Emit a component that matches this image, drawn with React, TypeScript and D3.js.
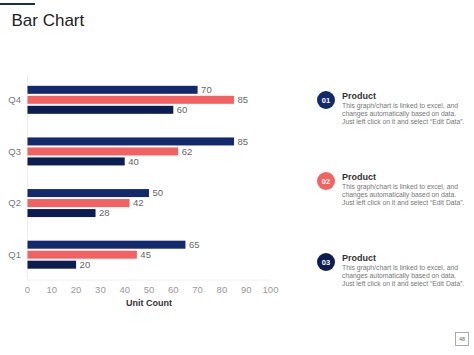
import React from "react";
import * as d3 from "d3";

const categories = ["Q1", "Q2", "Q3", "Q4"];
const series1 = [65, 50, 85, 70];
const series2 = [45, 42, 62, 85];
const series3 = [20, 28, 40, 60];
const xTicks = [0, 10, 20, 30, 40, 50, 60, 70, 80, 90, 100];
const seriesColors = ["#12296e", "#f36161", "#0c1d52"];
const panelNumbers = ["01", "02", "03"];
const panelColors = ["#12296e", "#f36161", "#0c1d52"];
const panelTitle = "Product";
const panelLines = [
  "This graph/chart is linked to excel, and",
  "changes automatically based on data.",
  "Just left click on it and select \u201CEdit Data\u201D.",
];

const W = 474;
const H = 355;
const font = "'Liberation Sans', Arial, sans-serif";

export default function App() {
  const x = d3.scaleLinear().domain([0, 100]).range([27.5, 270.5]);
  const y = d3
    .scaleBand<string>()
    .domain([...categories].reverse())
    .range([74, 280.5])
    .padding(0);
  const seriesAll = [series1, series2, series3];
  const barH = 8;
  const barGap = 10;

  return (
    <div style={{ position: "absolute", left: 0, top: 0 }}>
      <svg width={W} height={H} style={{ display: "block", background: "#fff" }}>
        <rect x={0} y={3} width={35} height={2} fill="#1c2b5e" />
        <text x={11.5} y={26} fontFamily={font} fontSize={17} fill="#222">
          Bar Chart
        </text>

        <line x1={x(0)} x2={x(0)} y1={74} y2={280} stroke="#eeeeee" />
        <line x1={x(0)} x2={x(100)} y1={280} y2={280} stroke="#f0f0f0" />

        {categories.map((c, i) => {
          const cy = (y(c) as number) + y.bandwidth() / 2;
          return (
            <g key={c}>
              <text
                x={21}
                y={cy}
                dy="0.35em"
                textAnchor="end"
                fontFamily={font}
                fontSize={9.5}
                fill="#777"
              >
                {c}
              </text>
              {seriesAll.map((s, j) => {
                const by = cy - barH / 2 + (j - 1) * barGap;
                return (
                  <g key={j}>
                    <rect
                      x={x(0)}
                      y={by}
                      width={x(s[i]) - x(0)}
                      height={barH}
                      fill={seriesColors[j]}
                    />
                    <text
                      x={x(s[i]) + 3.5}
                      y={by + barH / 2}
                      dy="0.35em"
                      fontFamily={font}
                      fontSize={9.5}
                      fill="#666"
                    >
                      {s[i]}
                    </text>
                  </g>
                );
              })}
            </g>
          );
        })}

        {xTicks.map((t) => (
          <text
            key={t}
            x={x(t)}
            y={290}
            dy="0.35em"
            textAnchor="middle"
            fontFamily={font}
            fontSize={9.5}
            fill="#999"
          >
            {t}
          </text>
        ))}
        <text
          x={(x(0) + x(100)) / 2}
          y={303}
          dy="0.35em"
          textAnchor="middle"
          fontFamily={font}
          fontSize={9}
          fontWeight="bold"
          fill="#333"
        >
          Unit Count
        </text>

        {panelNumbers.map((n, i) => {
          const cy = 100 + i * 81;
          return (
            <g key={n}>
              <circle cx={326} cy={cy} r={9} fill={panelColors[i]} />
              <text
                x={326}
                y={cy}
                dy="0.35em"
                textAnchor="middle"
                fontFamily={font}
                fontSize={7.5}
                fontWeight="bold"
                fill="#fff"
              >
                {n}
              </text>
              <text
                x={342}
                y={cy - 1}
                fontFamily={font}
                fontSize={9}
                fontWeight="bold"
                fill="#333"
              >
                {panelTitle}
              </text>
              {panelLines.map((l, k) => (
                <text
                  key={k}
                  x={342}
                  y={cy + 8 + k * 8}
                  fontFamily={font}
                  fontSize={6.8}
                  fill="#777"
                >
                  {l}
                </text>
              ))}
            </g>
          );
        })}

        <rect x={455.5} y={332.5} width={13} height={13} fill="none" stroke="#aaa" strokeWidth={1} />
        <text
          x={462}
          y={339}
          dy="0.35em"
          textAnchor="middle"
          fontFamily={font}
          fontSize={5.5}
          fill="#666"
        >
          48
        </text>
      </svg>
    </div>
  );
}
